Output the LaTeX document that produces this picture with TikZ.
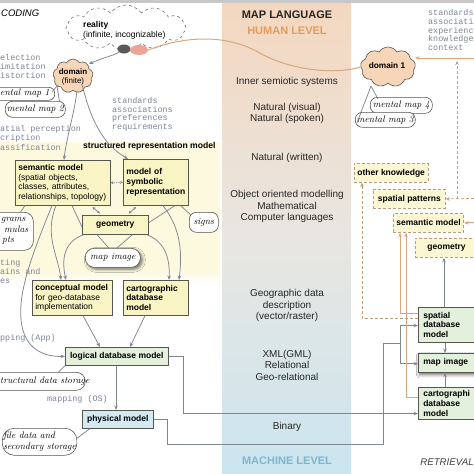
\documentclass[tikz,border=0pt]{standalone}
\usepackage{fontspec}
\setsansfont{Liberation Sans}
\setmonofont{Liberation Mono}
\usetikzlibrary{shapes.symbols,shapes.geometric,shadows.blur,arrows.meta,calc}
\definecolor{edgec}{HTML}{55564E}
\definecolor{connc}{HTML}{7F8794}
\definecolor{orng}{HTML}{D9A77A}
\definecolor{peach}{HTML}{F6D5B8}
\definecolor{monoc}{HTML}{7D8597}
\definecolor{bgy}{HTML}{FCF9DE}
\definecolor{human}{HTML}{E49C5A}
\definecolor{machine}{HTML}{7DB7CC}
\definecolor{dashc}{HTML}{BC9C7E}
\definecolor{dboxf}{HTML}{FBF7D2}
\definecolor{boxy}{HTML}{F9F4C4}
\definecolor{boxg}{HTML}{E3F0DC}
\definecolor{boxb}{HTML}{D3EAF3}
\definecolor{topbar}{HTML}{C8C8C8}
\definecolor{midA}{HTML}{F4D7BF}
\definecolor{midB}{HTML}{E8E6E1}
\definecolor{midC}{HTML}{CBE5EF}
\definecolor{blobd}{HTML}{5A5A5A}
\definecolor{blobp}{HTML}{EBA596}
\newcommand{\bxfont}{\sffamily\fontsize{8.5}{9.7}\selectfont}
\begin{document}
\begin{tikzpicture}[x=1pt,y=-1pt,
  bxs/.style={draw=edgec, line width=0.6pt, anchor=north west, inner xsep=3pt, inner ysep=1pt, font=\bxfont, align=left},
  ybx/.style={bxs, fill=boxy},
  gbx/.style={bxs, fill=boxg},
  bbx/.style={bxs, fill=boxb},
  dbx/.style={bxs, fill=dboxf, draw=dashc, dash pattern=on 3pt off 2pt, line width=0.8pt, align=center},
  pill/.style={draw=edgec, line width=0.6pt, fill=white, rounded corners=7pt, font=\rmfamily\itshape\fontsize{9.5}{10.5}\selectfont, inner sep=1pt, align=left},
  monot/.style={font=\ttfamily\fontsize{8.4}{9}\selectfont, text=monoc, align=left, anchor=west, inner sep=0pt},
  midt/.style={font=\sffamily\fontsize{10}{11.5}\selectfont, align=center, text=black!85, inner sep=0pt},
  midb/.style={midt, font=\sffamily\bfseries\fontsize{11}{12}\selectfont},
  txt/.style={font=\bxfont, inner sep=0pt, align=left},
  hand/.style={font=\rmfamily\itshape\fontsize{9.5}{10.5}\selectfont, inner sep=0pt, align=left},
  cline/.style={draw=connc, line width=0.75pt},
  carr/.style={cline, -{Stealth[length=4.5pt,width=3.5pt]}},
  oline/.style={draw=orng, line width=1pt},
  oarr/.style={oline, -{Stealth[length=4.5pt,width=3.5pt]}},
  odash/.style={draw=dashc, line width=0.8pt, dash pattern=on 3pt off 2pt},
  cloudsty/.style={cloud, cloud puffs=9, cloud puff arc=115, cloud ignores aspect, draw=edgec, fill=peach, line width=0.6pt, inner sep=0pt},
]
\useasboundingbox (0,0) rectangle (474,474);
\clip (0,0) rectangle (474,474);
% ---------------- backgrounds
\fill[white] (0,0) rectangle (474,474);
\fill[topbar] (0,0) rectangle (474,3);
\fill[bgy] (0,142) rectangle (220,270);
\shade[top color=bgy, bottom color=white] (0,269.5) rectangle (220,284);
\shade[top color=midA, bottom color=midB] (222,3) rectangle (351,240);
\shade[top color=midB, bottom color=midC] (222,239.5) rectangle (351,474);

% ---------------- middle column
\node[midb] (mlang) at (287,15) {MAP LANGUAGE};
\node[midb, text=human] (hlev) at (287,31) {HUMAN LEVEL};
\node[midt] (inner) at (287,82) {Inner semiotic systems};
\node[midt] (natvs) at (287,113.5) {Natural (visual)\\Natural (spoken)};
\node[midt] (natw) at (287,158) {Natural (written)};
\node[midt] (oop) at (287,206.5) {Object oriented modelling\\Mathematical\\Computer languages};
\node[midt] (geod) at (287,305.5) {Geographic data\\description\\(vector/raster)};
\node[midt] (xml) at (287,365) {XML(GML)\\Relational\\Geo-relational};
\node[midt] (bin) at (287,427) {Binary};
\node[midb, text=machine] (mlev) at (287,461) {MACHINE LEVEL};

% ---------------- plain texts
\node[txt, font=\sffamily\itshape\fontsize{9.5}{10}\selectfont, anchor=west] (coding) at (1,13) {CODING};
\node[txt, font=\sffamily\itshape\fontsize{9.7}{10}\selectfont, text=black!75] (retr) at (447,462) {RETRIEVAL};
\node[monot] (sel) at (0,66) {election\\imitation\\istortion};
\node[monot, font=\ttfamily\fontsize{8.4}{8.5}\selectfont] (std) at (112,114.5) {standards\\associations\\preferences\\requirements};
\node[monot, font=\ttfamily\fontsize{8.4}{9.5}\selectfont] (spp) at (0,137.5) {atial perception\\cription\\assification};
\node[monot] (tin) at (0,271) {ting\\ains and\\es};
\node[monot] (mapp) at (0,338) {pping (App)};
\node[monot] (maos) at (47,399) {mapping (OS)};
\node[monot, font=\ttfamily\fontsize{8.4}{8.7}\selectfont] (stdR) at (428,30) {standards\\associati\\experienc\\knowledge\\context};
\node[txt, font=\sffamily\bfseries\fontsize{8.6}{9}\selectfont, anchor=west] (srm) at (83,146) {structured representation model};

% ---------------- reality, domains
\node[cloud, cloud puffs=12, cloud puff arc=110, cloud ignores aspect, draw=black!55, dashed, line width=0.6pt, minimum width=120, minimum height=46, inner sep=0pt] (real) at (126,28) {};
\node[txt, anchor=west] (realt) at (83,30) {\textbf{reality}\\(infinite, incognizable)};
\node[ellipse, fill=blobd, minimum width=13, minimum height=9, inner sep=0pt] (blobA) at (124,49) {};
\node[ellipse, fill=blobp, minimum width=18, minimum height=10, inner sep=0pt] (blobB) at (139,50) {};

\node[cloudsty, minimum width=40, minimum height=34] (dom) at (73,76) {};
\node[txt, font=\sffamily\fontsize{8}{9}\selectfont, align=center] (domt) at (73,77) {\textbf{domain}\\(finite)};
\node[cloudsty, minimum width=55, minimum height=40] (dom1) at (388,67) {};
\node[txt, font=\sffamily\bfseries\fontsize{8.3}{9}\selectfont] (dom1t) at (387,66) {domain 1};

\node[pill, anchor=north east, minimum width=70, minimum height=13, rounded corners=6pt] (mm1) at (55,87) {};
\node[hand, anchor=west] (mm1t) at (0,93.5) {ental map 1};
\node[pill, anchor=north west, minimum width=60, minimum height=16] (mm2) at (5,101) {mental map 2};
\node[pill, anchor=north west, minimum width=62, minimum height=16] (mm4) at (370,97) {mental map 4};
\node[pill, anchor=north west, minimum width=60, minimum height=15] (mm3) at (355,112) {mental map 3};

% ---------------- left model boxes
\node[ybx, minimum width=95, minimum height=45, text width=89] (sem) at (15,160) {\textbf{semantic model}\\(spatial objects,\\classes, attributes,\\relationships, topology)};
\node[ybx, minimum width=65, minimum height=46, text width=59] (sym) at (123,159) {\textbf{model of}\\\textbf{symbolic}\\\textbf{representation}\\[8pt]};
\node[ybx, minimum width=66, minimum height=19, align=center] (geo) at (82,215) {\textbf{geometry}};
\node[pill, anchor=north west, minimum width=55, minimum height=19, rounded corners=9pt, align=center, blur shadow={shadow xshift=2pt, shadow yshift=-2pt, shadow blur radius=3pt, shadow opacity=55}] (mimg) at (85,248) {map image};
\node[pill, anchor=north west, minimum width=29, minimum height=20, align=center] (sig) at (189,212) {signs};
\node[pill, anchor=north west, minimum width=53, minimum height=38, rounded corners=9pt] (diag) at (-20,212) {};
\node[hand, anchor=west] (diagt) at (1,231) {grams\\\hspace{3pt}mulas\\\hspace{1pt}pts};
\node[ybx, minimum width=80, minimum height=35, text width=74] (conc) at (32,280) {\textbf{conceptual model}\\for geo-database\\implementation};
\node[ybx, minimum width=65, minimum height=35, text width=59] (cartL) at (123,280) {\textbf{cartographic}\\\textbf{database}\\\textbf{model}};
\node[gbx, minimum width=103, minimum height=18, align=center] (logi) at (65,347) {\textbf{logical database model}};
\node[pill, anchor=north west, minimum width=105, minimum height=18, rounded corners=9pt] (strp) at (-20,372) {};
\node[hand, anchor=west] (strt) at (0,381) {tructural data storage};
\node[bbx, minimum width=71, minimum height=18, align=center] (phys) at (82,410) {\textbf{physical model}};
\node[pill, anchor=north west, minimum width=73, minimum height=27, rounded corners=12pt] (filep) at (2,428) {file data and\\secondary storage};

% ---------------- right boxes
\node[dbx, minimum width=73, minimum height=19] (oth) at (354,163) {\textbf{other knowledge}};
\node[dbx, minimum width=72, minimum height=19] (pat) at (373,189) {\textbf{spatial patterns}};
\node[dbx, minimum width=66, minimum height=19] (semR) at (393,213) {\textbf{semantic model}};
\node[dbx, minimum width=74, minimum height=19, align=left, text width=50, inner xsep=12pt] (geoR) at (415,238) {\textbf{geometry}};
\node[gbx, minimum width=62, minimum height=35, text width=52] (spdb) at (418,307) {\textbf{spatial}\\\textbf{database}\\\textbf{model}};
\node[gbx, minimum width=62, minimum height=19, text width=52, blur shadow={shadow xshift=1pt, shadow yshift=-2.5pt, shadow blur radius=3pt, shadow opacity=55}] (mapR) at (418,353) {\textbf{map image}};
\node[gbx, minimum width=62, minimum height=32, text width=52] (cartR) at (418,387) {\textbf{cartographi}\\\textbf{database}\\\textbf{model}};

% ---------------- connectors: top
\draw[oline] (blobB.east) .. controls (185,36) and (225,34) .. (258,52) .. controls (285,68) and (330,76) .. (dom1.west);
\draw[carr] (blobA.south west) .. controls (112,56) and (102,58) .. ($(dom.center)+(16,-12)$);
\draw[cline] ($(dom.center)+(-16,10)$) -- ($(mm1.north east)+(-3,5)$);
\draw[cline] ($(dom.center)+(-16,10)$) -- ($(mm2.north east)+(-6,1)$);
\draw[cline] ($(dom1.center)+(-17,19)$) -- ($(mm3.west)+(2,3)$);
\draw[cline] ($(dom1.center)+(-17,19)$) -- ($(mm4.north west)+(8,2)$);
\draw[carr] ($(dom.south)+(4,0)$) .. controls (74,115) and (66,140) .. ($(sem.north west)+(49,0)$);
\draw[carr] ($(dom.south east)+(-4,-2)$) .. controls (92,125) and (105,145) .. ($(sym.north west)+(5,0)$);

% ---------------- connectors: structured model
\draw[cline, densely dotted, {Stealth[length=3pt,width=3pt]}-{Stealth[length=3pt,width=3pt]}] (sem.east) -- (sym.west);
\draw[cline, {Stealth[length=3pt,width=3pt]}-{Stealth[length=3pt,width=3pt]}] ($(sem.south east)+(-18,1.5)$) -- ($(geo.north west)+(18,-1.5)$);
\draw[cline, {Stealth[length=3pt,width=3pt]}-{Stealth[length=3pt,width=3pt]}] ($(sym.south west)+(13,1.5)$) -- ($(geo.north east)+(-20,-1.5)$);
\draw[cline] ($(sem.south west)+(57,0)$) -- ($(geo.west)+(0,2)$);
\draw[cline] ($(sym.south west)+(52,0)$) -- ($(geo.east)+(0,-2)$);
\draw[cline] ($(geo.south west)+(15,0)$) -- ($(mimg.north)+(-4,0)$);
\draw[cline] ($(geo.south east)+(-16,0)$) -- ($(mimg.north)+(4,0)$);
\draw[cline] ($(sym.south east)+(-8,0)$) -- ($(sig.north west)+(2,3)$);
\draw[cline] ($(sem.south west)+(10,0)$) -- ($(diag.north east)+(-13,0)$);
\draw[carr] ($(sem.south west)+(41,0)$) .. controls (44,235) and (58,255) .. ($(conc.north west)+(29,0)$);
\draw[carr] ($(geo.south west)+(2,0)$) .. controls (62,242) and (62,262) .. ($(conc.north west)+(34,0)$);
\draw[carr] ($(sym.south west)+(40,0)$) .. controls (182,230) and (182,255) .. ($(cartL.north west)+(56,0)$);
\draw[carr] ($(geo.south east)+(-2,0)$) .. controls (166,242) and (170,260) .. ($(cartL.north west)+(46,0)$);
\draw[carr] ($(sem.south west)+(37,0)$) .. controls (34,250) and (18,290) .. (21,320) .. controls (24,350) and (45,357) .. (logi.west);

% ---------------- connectors: database chain
\draw[carr] ($(conc.south west)+(51,0)$) -- ($(logi.north west)+(35,0)$);
\draw[carr] ($(cartL.south west)+(22,0)$) -- ($(logi.north west)+(65,0)$);
\draw[carr] ($(logi.south west)+(51,0)$) -- ($(phys.north west)+(34,0)$);
\draw[cline] (logi.south west) -- ($(strp.north east)+(-27,0)$);
\draw[cline] ($(phys.south west)+(8,0)$) -- ($(filep.east)+(-1,-3)$);
\coordinate (jA) at (383,444);
\coordinate (jB) at (400,343);
\draw[carr] (logi.east) -- ++(15,0) |- ($(cartR.south west)+(0,-6)$);
\draw[cline] (phys.east) -- ++(14,0) |- (jA) |- (jB);
\draw[carr] (jB) |- ($(spdb.south west)+(0,-17)$);
\draw[carr] (jB) |- ($(mapR.west)+(0,1)$);

% ---------------- connectors: right
\draw[carr] ($(spdb.north west)+(26,0)$) -- ($(geoR.south west)+(29,0)$);
\draw[carr] ($(spdb.south west)+(27,0)$) -- ($(mapR.north west)+(27,0)$);
\draw[carr] ($(cartR.north west)+(27,0)$) -- ($(mapR.south west)+(27,0)$);
\draw[oarr] ($(spdb.north west)+(0,6)$) -| ($(semR.south west)+(7,0)$);
\draw[oarr] ($(cartR.north west)+(0,10)$) -| ($(semR.south west)+(13,0)$);
\draw[odash, -{Stealth[length=4pt,width=3.5pt]}] ($(spdb.north west)+(0,11)$) -| ($(oth.south west)+(8,0)$);
\coordinate (rE1) at (474,222.5);
\coordinate (rE2) at (474,198.5);
\coordinate (rE3) at (474,58);
\coordinate (dv) at (457,198.5);
\coordinate (ctx) at (457,61);
\draw[oarr] (rE1) -- (semR.east);
\draw[odash, -{Stealth[length=4pt,width=3.5pt]}] (rE2) -- (pat.east);
\draw[odash, -{Stealth[length=4pt,width=3.5pt]}] (dv) -- (ctx);
\draw[oarr] (rE3) -- ($(dom1.center)+(27,-9)$);
\end{tikzpicture}
\end{document}
